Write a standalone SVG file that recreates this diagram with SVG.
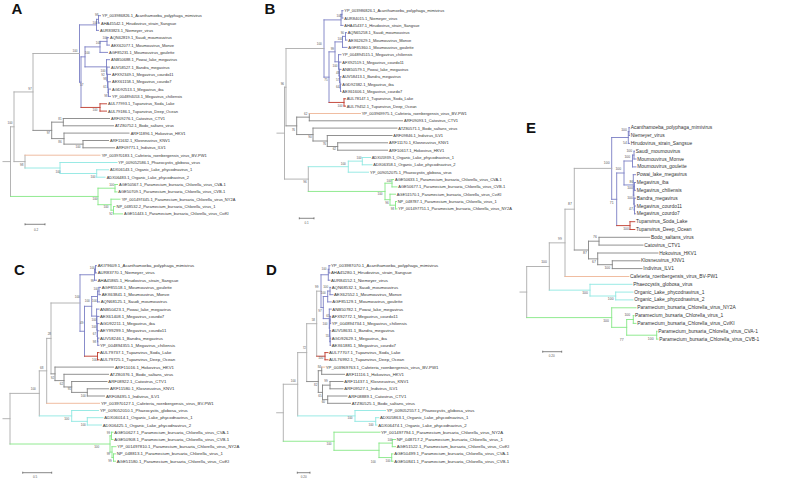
<svg xmlns="http://www.w3.org/2000/svg" width="785" height="479" viewBox="0 0 785 479">
<style>
text{font-family:"Liberation Sans",Arial,sans-serif}
.e path{fill:none;stroke-width:0.9;stroke-linecap:square}
.bl{stroke:#7b7fc4}.rd{stroke:#c0392b}.gy{stroke:#ababab}.dk{stroke:#858585}.or{stroke:#eeb596}.cy{stroke:#8ee8e2}.gr{stroke:#86e886}
.lf text{fill:#333;dominant-baseline:central}
.la{font-size:4px}.lc{font-size:4.3px}.le{font-size:4.9px}
.bs text{fill:#555;font-size:3px;text-anchor:middle;dominant-baseline:central}
.bse text{font-size:3.4px}
.pl{font-size:15px;font-weight:bold;fill:#111}
.sb path{stroke:#555;stroke-width:0.7;fill:none}
.sb text{fill:#555;font-size:3px;text-anchor:middle;dominant-baseline:central}
</style>
<rect width="785" height="479" fill="#fff"/>

<!-- ================= PANEL A ================= -->
<g id="panelA">
<text class="pl" x="11.5" y="13.5">A</text>
<g id="A-edges" class="e">
<path class="bl" d="M98.5 15.7V23M98.5 15.7H100.5M98.5 23H99.5M96.5 19.35V30.4M96.5 19.35H98.5M96.5 30.4H98.5M107 37.7V45.1M107 37.7H108.5M107 45.1H109.5M100 41.4V52.4M100 41.4H107M100 52.4H107.5M108.5 89.1V96.4M108.5 89.1H110.5M108.5 96.4H110.5M108 81.8V92.75M108 81.8H110.5M108 92.75H108.5M107.5 74.4V87.3M107.5 74.4H110.5M107.5 87.3H108M107 67.1V80.8M107 67.1H109.5M107 80.8H107.5M106.5 59.7V74M106.5 59.7H109.5M106.5 74H107M85 46.9V66.85M85 46.9H100M85 66.85H106.5M81 56.85V107.45M81 56.85H85M79.5 24.9V82.15M79.5 24.9H96.5M79.5 82.15H81"/>
<path class="rd" d="M81 107.45H100M100 103.8V111.1M100 103.8H106.5M100 111.1H106.5"/>
<path class="gy" d="M3 161.6H10.5M10.5 126.8V196.45M10.5 126.8H14M14 91.95V161.6M14 91.95H33M14 161.6H25M25 155.2V168M33 53.5H79.5M33 53.5V130.4"/>
<path class="dk" d="M33 130.4H51.7M51.7 122.15V138.6M51.7 122.15H63.3M51.7 138.6H64M63.3 118.5V125.8M63.3 118.5H109.5M63.3 125.8H113.5M64 133.1V144.15M64 133.1H129M64 144.15H83M83 140.5V147.8M83 140.5H108.5M83 147.8H114.5"/>
<path class="or" d="M25 155.2H100"/>
<path class="cy" d="M25 168H60M60 162.5V173.5M60 162.5H117M60 173.5H96.7M96.7 169.8V177.2M96.7 169.8H108.5M96.7 177.2H105"/>
<path class="gr" d="M10.5 196.45H98M98 188.2V204.7M98 188.2H115M98 204.7H111M115 184.5V191.9M115 184.5H117.5M115 191.9H117M111 199.2V210.2M111 199.2H120M111 210.2H113.5M113.5 206.5V213.9M113.5 206.5H115M113.5 213.9H122.5"/>
</g>
<g id="A-leaves" class="lf la">
<text x="102" y="15.7">YP_003986826.1_Acanthamoeba_polyphaga_mimivirus</text>
<text x="101" y="23">AHA45542.1_Hirudovirus_strain_Sangsue</text>
<text x="100" y="30.4">AUR83823.1_Niemeyer_virus</text>
<text x="110" y="37.7">AQN62819.1_Saudi_moumouvirus</text>
<text x="111" y="45.1">AEX62077.1_Moumouvirus_Monve</text>
<text x="109" y="52.4">AGF85231.1_Moumouvirus_goulette</text>
<text x="111" y="59.7">ANB50688.1_Powai_lake_megavirus</text>
<text x="111" y="67.1">AUV58527.1_Bandra_megavirus</text>
<text x="112" y="74.4">AFX92349.1_Megavirus_courdo11</text>
<text x="112" y="81.8">AEX61158.1_Megavirus_courdo7</text>
<text x="112" y="89.1">AGD92513.1_Megavirus_iba</text>
<text x="112" y="96.4">YP_004894053.1_Megavirus_chiliensis</text>
<text x="108" y="103.8">AUL77993.1_Tupanvirus_Soda_Lake</text>
<text x="108" y="111.1">AUL79186.1_Tupanvirus_Deep_Ocean</text>
<text x="111" y="118.5">ARF09276.1_Catovirus_CTV1</text>
<text x="115" y="125.8">ATZ80752.1_Bodo_saltans_virus</text>
<text x="130.7" y="133.1">ARF11896.1_Hokovirus_HKV1</text>
<text x="110" y="140.5">ARF11632.1_Klosneuvirus_KNV1</text>
<text x="116" y="147.8">ARF09771.1_Indivirus_ILV1</text>
<text x="101.7" y="155.2">YP_003970183.1_Cafeteria_roenbergensis_virus_BV-PW1</text>
<text x="118.3" y="162.5">YP_009052586.1_Phaeocystis_globosa_virus</text>
<text x="110" y="169.8">ADX06143.1_Organic_Lake_phycodnavirus_1</text>
<text x="106.7" y="177.2">ADX06483.1_Organic_Lake_phycodnavirus_2</text>
<text x="119" y="184.5">AGE50567.1_Paramecium_bursaria_Chlorella_virus_CVA-1</text>
<text x="118.3" y="191.9">AGE50709.1_Paramecium_bursaria_Chlorella_virus_CVB-1</text>
<text x="121.7" y="199.2">YP_001497445.1_Paramecium_bursaria_Chlorella_virus_NY2A</text>
<text x="116.5" y="206.5">NP_048532.2_Paramecium_bursaria_Chlorella_virus_1</text>
<text x="124" y="213.9">AGE51443.1_Paramecium_bursaria_Chlorella_virus_CviKI</text>
</g>
<g id="A-support" class="bs">
<text x="96.7" y="15.2">98</text><text x="95" y="22.7">100</text><text x="105" y="37.5">100</text><text x="98.3" y="43.3">100</text><text x="87.3" y="53.3">100</text>
<text x="103" y="70.7">100</text><text x="103" y="75">92</text><text x="105" y="79">98</text><text x="105" y="87.3">61</text><text x="106" y="95.7">98</text>
<text x="75" y="50.7">100</text><text x="81.7" y="85">57</text><text x="30" y="89">97</text><text x="95" y="110">100</text>
<text x="60" y="119.3">81</text><text x="48.3" y="133.3">97</text><text x="60" y="141.7">86</text><text x="78" y="147">100</text>
<text x="10" y="123">100</text><text x="21.7" y="165">98</text><text x="58" y="171.7">100</text><text x="93" y="176.7">100</text>
<text x="111.7" y="185">100</text><text x="95" y="199">100</text><text x="106" y="207">100</text><text x="111" y="214">92</text>
</g>
<g id="A-scale" class="sb"><path d="M25 224.3H45M25 223.3V225.3M45 223.3V225.3"/><text x="36" y="229.5">0.2</text></g>
</g>

<!-- ================= PANEL B ================= -->
<g id="panelB">
<text class="pl" x="264.5" y="13.5">B</text>
<g id="B-edges" class="e">
<path class="bl" d="M342 10.7V18M342 10.7H343M342 18H343M341 14.35V25.4M341 14.35H342M341 25.4H343M345.5 32.7V40.1M345.5 32.7H346.5M345.5 40.1H347M342.5 36.4V47.4M342.5 36.4H345.5M342.5 47.4H347M340.5 84.1V91.4M340.5 84.1H341M340.5 91.4H341M340 76.8V87.75M340 76.8H341M340 87.75H340.5M339.5 69.4V82.3M339.5 69.4H341M339.5 82.3H340M339 62.1V75.85M339 62.1H341M339 75.85H339.5M338.5 54.7V68.95M338.5 54.7H341M338.5 68.95H339M335 41.9V61.8M335 41.9H342.5M335 61.8H338.5M329 51.85V102.45M329 51.85H335M324 19.9V77.15M324 19.9H341M324 77.15H329"/>
<path class="rd" d="M329 102.45H344M344 98.8V106.1M344 98.8H345.5M344 106.1H345.5"/>
<path class="gy" d="M277 133.15H284.5M284.5 87.2V179.1M284.5 87.2H286M286 48.5V125.85M286 48.5H324M308.3 166.7V191.45M284.5 179.1H308.3"/>
<path class="dk" d="M286 125.85H296.7M296.7 117.15V134.55M296.7 117.15H309.3M296.7 134.55H313M309.3 113.5V120.8M309.3 120.8H402.5M313 128.1V141M313 128.1H397M313 141H327.3M327.3 135.5V146.5M327.3 135.5H392M327.3 146.5H337.7M337.7 142.8V150.2M337.7 142.8H387.5M337.7 150.2H387.5"/>
<path class="or" d="M309.3 113.5H360.5"/>
<path class="cy" d="M308.3 166.7H348.3M348.3 161.15V172.2M348.3 161.15H362.3M348.3 172.2H368.5M362.3 157.5V164.8M362.3 157.5H370.5M362.3 164.8H372"/>
<path class="gr" d="M308.3 191.45H385M385 183.2V199.7M385 183.2H392M385 199.7H390M392 179.5V186.9M392 179.5H393.5M392 186.9H397M390 194.2V205.2M390 194.2H395.5M390 205.2H395.5M395.5 201.5V208.9M395.5 201.5H396.5M395.5 208.9H397"/>
</g>
<g id="B-leaves" class="lf la">
<text x="344.3" y="10.7">YP_003986826.1_Acanthamoeba_polyphaga_mimivirus</text>
<text x="344.3" y="18">AUR84015.1_Niemeyer_virus</text>
<text x="344.3" y="25.4">AHA45437.1_Hirudovirus_strain_Sangsue</text>
<text x="347.7" y="32.7">AQN65258.1_Saudi_moumouvirus</text>
<text x="348.3" y="40.1">AEX62629.1_Moumouvirus_Monve</text>
<text x="348.3" y="47.4">AGF85360.1_Moumouvirus_goulette</text>
<text x="342.3" y="54.7">YP_004894515.1_Megavirus_chiliensis</text>
<text x="342.3" y="62.1">AFX92519.1_Megavirus_courdo11</text>
<text x="342.3" y="69.4">ANB50579.1_Powai_lake_megavirus</text>
<text x="342.3" y="76.8">AUV58413.1_Bandra_megavirus</text>
<text x="342.3" y="84.1">AGD92382.1_Megavirus_iba</text>
<text x="342.3" y="91.4">AEX61606.1_Megavirus_courdo7</text>
<text x="346.7" y="98.8">AUL78147.1_Tupanvirus_Soda_Lake</text>
<text x="346.7" y="106.1">AUL79452.1_Tupanvirus_Deep_Ocean</text>
<text x="361.7" y="113.5">YP_003969975.1_Cafeteria_roenbergensis_virus_BV-PW1</text>
<text x="404" y="120.8">ARF09093.1_Catovirus_CTV1</text>
<text x="398.3" y="128.1">ATZ80571.1_Bodo_saltans_virus</text>
<text x="393.3" y="135.5">ARF09846.1_Indivirus_ILV1</text>
<text x="389" y="142.8">ARF11170.1_Klosneuvirus_KNV1</text>
<text x="389" y="150.2">ARF10617.1_Hokovirus_HKV1</text>
<text x="371.7" y="157.5">ADX05939.1_Organic_Lake_phycodnavirus_1</text>
<text x="373.3" y="164.8">ADX06358.1_Organic_Lake_phycodnavirus_2</text>
<text x="370" y="172.2">YP_009052075.1_Phaeocystis_globosa_virus</text>
<text x="395" y="179.5">AGE50633.1_Paramecium_bursaria_Chlorella_virus_CVA-1</text>
<text x="398.3" y="186.9">AGE50677.1_Paramecium_bursaria_Chlorella_virus_CVB-1</text>
<text x="396.7" y="194.2">AGE51570.1_Paramecium_bursaria_Chlorella_virus_CviKI</text>
<text x="397.7" y="201.5">NP_048787.1_Paramecium_bursaria_Chlorella_virus_1</text>
<text x="398.3" y="208.9">YP_001497751.1_Paramecium_bursaria_Chlorella_virus_NY2A</text>
</g>
<g id="B-support" class="bs">
<text x="339" y="15.7">100</text><text x="319.3" y="44.3">100</text><text x="326" y="80">75</text><text x="342.3" y="33.3">90</text><text x="340" y="39.3">100</text><text x="332.3" y="49.3">99</text>
<text x="335" y="65.7">100</text><text x="337.7" y="72.7">48</text><text x="337.7" y="80">57</text><text x="337.7" y="87.3">64</text><text x="340" y="106">100</text>
<text x="282.3" y="84">96</text><text x="305.7" y="114">62</text><text x="293.3" y="130">76</text><text x="310" y="137.3">90</text><text x="324.3" y="144.3">76</text><text x="334.3" y="149.3">62</text>
<text x="359" y="158.3">100</text><text x="343.3" y="164.3">100</text><text x="305" y="182.3">96</text>
<text x="389" y="180.7">100</text><text x="380" y="194.3">100</text><text x="387" y="202.7">96</text><text x="392.5" y="208.5">98</text>
</g>
<g id="B-scale" class="sb"><path d="M299.3 218.3H314M299.3 217.3V219.3M314 217.3V219.3"/><text x="306.5" y="223">0.1</text></g>
</g>

<!-- ================= PANEL C ================= -->
<g id="panelC">
<text class="pl" x="14" y="275">C</text>
<g id="C-edges" class="e">
<path class="bl" d="M95.5 265.7V272.9M95.5 265.7H96.5M95.5 272.9H96.5M94.5 269.3V280.2M94.5 269.3H95.5M94.5 280.2H96.5M99 287.4V294.7M99 287.4H100.5M99 294.7H100.5M97.5 291.05V301.9M97.5 291.05H99M97.5 301.9H99.5M97.8 338.1V345.3M97.8 338.1H99M97.8 345.3H99M97.5 330.8V341.7M97.5 330.8H99M97.5 341.7H97.8M97.2 323.6V336.25M97.2 323.6H99M97.2 336.25H97.5M96.9 316.4V329.9M96.9 316.4H99M96.9 329.9H97.2M96.6 309.1V323.15M96.6 309.1H99M96.6 323.15H96.9M91.7 296.5V316.1M91.7 296.5H97.5M91.7 316.1H96.6M84.5 306.3V356.2M84.5 306.3H91.7M80 274.75V331.25M80 274.75H94.5M80 331.25H84.5"/>
<path class="rd" d="M84.5 356.2H97.5M97.5 352.6V359.8M97.5 352.6H99M97.5 359.8H99"/>
<path class="gy" d="M3 418.7H10M10 393.4V444M10 393.4H39.3M39.3 370.85V415.9M39.3 370.85H46.7M46.7 338.4V403.3M46.7 338.4H51M51 303V373.85M51 303H80"/>
<path class="dk" d="M51 373.85H55M55 367.1V380.6M55 367.1H113.5M55 380.6H64M64 374.3V386.95M64 374.3H108.5M64 386.95H71.7M71.7 381.5V392.4M71.7 381.5H107M71.7 392.4H87.3M87.3 388.8V396M87.3 388.8H108.5M87.3 396H104.5"/>
<path class="or" d="M46.7 403.3H99.5"/>
<path class="cy" d="M39.3 415.9H71.7M71.7 410.5V421.35M71.7 410.5H98.5M71.7 421.35H87.3M87.3 417.7V425M87.3 417.7H103M87.3 425H101.5"/>
<path class="gr" d="M10 444H110M110 435.85V452.1M110 435.85H111.5M110 452.1H112M111.5 432.2V439.5M111.5 432.2H113M111.5 439.5H113M112 446.7V457.55M112 446.7H116M112 457.55H113.5M113.5 453.9V461.2M113.5 453.9H115.5M113.5 461.2H115.5"/>
</g>
<g id="C-leaves" class="lf lc">
<text x="97.7" y="265.7">AKI79609.1_Acanthamoeba_polyphaga_mimivirus</text>
<text x="97.7" y="272.9">AUR83770.1_Niemeyer_virus</text>
<text x="97.7" y="280.2">AHA45865.1_Hirudovirus_strain_Sangsue</text>
<text x="101.7" y="287.4">AGF85518.1_Moumouvirus_goulette</text>
<text x="101.7" y="294.7">AEX63841.1_Moumouvirus_Monve</text>
<text x="100.7" y="301.9">AQN68125.1_Saudi_moumouvirus</text>
<text x="100" y="309.1">ANB50423.1_Powai_lake_megavirus</text>
<text x="100" y="316.4">AEX61408.1_Megavirus_courdo7</text>
<text x="100" y="323.6">AGD92211.1_Megavirus_iba</text>
<text x="100" y="330.8">AEY99299.1_Megavirus_courdo11</text>
<text x="100" y="338.1">AUV58246.1_Bandra_megavirus</text>
<text x="100" y="345.3">YP_004894355.1_Megavirus_chiliensis</text>
<text x="100" y="352.6">AUL79737.1_Tupanvirus_Soda_Lake</text>
<text x="100" y="359.8">AUL79725.1_Tupanvirus_Deep_Ocean</text>
<text x="115" y="367.1">ARF11016.1_Hokovirus_HKV1</text>
<text x="110" y="374.3">ATZ80376.1_Bodo_saltans_virus</text>
<text x="108.3" y="381.5">ARF08922.1_Catovirus_CTV1</text>
<text x="110" y="388.8">ARF11580.1_Klosneuvirus_KNV1</text>
<text x="106" y="396">ARF08495.1_Indivirus_ILV1</text>
<text x="101" y="403.3">YP_003970127.1_Cafeteria_roenbergensis_virus_BV-PW1</text>
<text x="100" y="410.5">YP_009052010.1_Phaeocystis_globosa_virus</text>
<text x="104.3" y="417.7">ADX06014.1_Organic_Lake_phycodnavirus_1</text>
<text x="102.7" y="425">ADX06425.1_Organic_Lake_phycodnavirus_2</text>
<text x="114.3" y="432.2">AGE50627.1_Paramecium_bursaria_Chlorella_virus_CVA-1</text>
<text x="114.3" y="439.5">AGE50908.1_Paramecium_bursaria_Chlorella_virus_CVB-1</text>
<text x="117.3" y="446.7">YP_001497810.1_Paramecium_bursaria_Chlorella_virus_NY2A</text>
<text x="116.7" y="453.9">NP_048813.1_Paramecium_bursaria_Chlorella_virus_1</text>
<text x="116.7" y="461.2">AGE51580.1_Paramecium_bursaria_Chlorella_virus_CviKI</text>
</g>
<g id="C-support" class="bs">
<text x="92.3" y="267.7">100</text><text x="92.3" y="280.7">99</text><text x="96" y="289.3">100</text><text x="94.5" y="301">100</text><text x="87.3" y="301">100</text>
<text x="94" y="320">100</text><text x="94" y="326.7">100</text><text x="94.5" y="334.3">67</text><text x="94.5" y="341.7">98</text>
<text x="77.3" y="297.3">100</text><text x="81.7" y="323.3">49</text><text x="94.5" y="360">100</text><text x="49.3" y="334.3">28</text><text x="41.7" y="367.7">68</text>
<text x="52.5" y="378">92</text><text x="61.5" y="384">62</text><text x="69.3" y="389.3">91</text><text x="83.3" y="396">100</text>
<text x="33.3" y="389.3">100</text><text x="66.7" y="419.3">100</text><text x="83.3" y="425">100</text>
<text x="108.5" y="433">99</text><text x="96.7" y="446.7">100</text><text x="108.3" y="454.3">99</text><text x="110" y="461">99</text>
</g>
<g id="C-scale" class="sb"><path d="M22.7 472.7H51.7M22.7 471.7V473.7M51.7 471.7V473.7"/><text x="35" y="476.7">0.5</text></g>
</g>

<!-- ================= PANEL D ================= -->
<g id="panelD">
<text class="pl" x="266" y="274.5">D</text>
<g id="D-edges" class="e">
<path class="bl" d="M329 265.7V272.9M329 265.7H330M329 272.9H330M328.3 269.3V280.2M328.3 269.3H329M328.3 280.2H330M330 287.4V294.7M330 287.4H330.7M330 294.7H333M327.7 291.05V301.9M327.7 291.05H330M327.7 301.9H331.3M330.2 316.4V323.6M330.2 316.4H330.7M330.2 323.6H330.7M330.2 338.1V345.3M330.2 338.1H330.7M330.2 345.3H330.7M329.9 330.8V341.7M329.9 330.8H330.7M329.9 341.7H330.2M329.6 320V336.25M329.6 320H330.2M329.6 336.25H329.9M329.3 309.1V328.1M329.3 309.1H331.3M329.3 328.1H329.6M323.3 296.5V318.6M323.3 296.5H327.7M323.3 318.6H329.3M321 274.75V307.55M321 274.75H328.3M321 307.55H323.3"/>
<path class="gy" d="M316.7 291.15V356.2M316.7 291.15H321M306.7 323.7V381.55M306.7 323.7H316.7M297.7 352.6V415.9M297.7 352.6H306.7M276.7 412.75H283.3M283.3 384.25V441.25M283.3 384.25H297.7"/>
<path class="rd" d="M316.7 356.2H325M325 352.6V359.8M325 352.6H328M325 359.8H328"/>
<path class="dk" d="M306.7 381.55H318.3M318.3 370.7V392.4M318.3 370.7H321.7M318.3 392.4H322.5M321.7 367.1V374.3M321.7 374.3H344.5M322.5 385.15V399.65M322.5 385.15H330M322.5 399.65H327.7M330 381.5V388.8M330 381.5H343M330 388.8H343M327.7 396V403.3M327.7 396H347M327.7 403.3H350.5"/>
<path class="or" d="M321.7 367.1H324.7"/>
<path class="cy" d="M297.7 415.9H355M355 410.5V421.35M355 410.5H385.5M355 421.35H375.7M375.7 417.7V425M375.7 417.7H378.8M375.7 425H377"/>
<path class="gr" d="M283.3 441.25H334M334 432.2V450.3M334 432.2H380M334 450.3H379M379 443.1V457.55M379 443.1H392.3M379 457.55H391.7M392.3 439.5V446.7M392.3 439.5H395.5M392.3 446.7H395.5M391.7 453.9V461.2M391.7 453.9H393M391.7 461.2H393"/>
</g>
<g id="D-leaves" class="lf lc">
<text x="331" y="265.7">YP_003987070.1_Acanthamoeba_polyphaga_mimivirus</text>
<text x="331" y="272.9">AHA45280.1_Hirudovirus_strain_Sangsue</text>
<text x="331" y="280.2">AUR84152.1_Niemeyer_virus</text>
<text x="331.7" y="287.4">AQN68532.1_Saudi_moumouvirus</text>
<text x="334" y="294.7">AEX62552.1_Moumouvirus_Monve</text>
<text x="332.3" y="301.9">AGF85129.1_Moumouvirus_goulette</text>
<text x="332.3" y="309.1">ANB50782.1_Powai_lake_megavirus</text>
<text x="331.7" y="316.4">AFX92772.1_Megavirus_courdo11</text>
<text x="331.7" y="323.6">YP_004894734.1_Megavirus_chiliensis</text>
<text x="331.7" y="330.8">AUV58631.1_Bandra_megavirus</text>
<text x="331.7" y="338.1">AGD92629.1_Megavirus_iba</text>
<text x="331.7" y="345.3">AEX61881.1_Megavirus_courdo7</text>
<text x="329" y="352.6">AUL77707.1_Tupanvirus_Soda_Lake</text>
<text x="329" y="359.8">AUL76992.1_Tupanvirus_Deep_Ocean</text>
<text x="325.7" y="367.1">YP_003969763.1_Cafeteria_roenbergensis_virus_BV-PW1</text>
<text x="345.7" y="374.3">ARF11116.1_Hokovirus_HKV1</text>
<text x="344.3" y="381.5">ARF11437.1_Klosneuvirus_KNV1</text>
<text x="344.3" y="388.8">ARF09527.1_Indivirus_ILV1</text>
<text x="348.3" y="396">ARF08889.1_Catovirus_CTV1</text>
<text x="351.7" y="403.3">ATZ80525.1_Bodo_saltans_virus</text>
<text x="386.7" y="410.5">YP_009052557.1_Phaeocystis_globosa_virus</text>
<text x="380" y="417.7">ADX05863.1_Organic_Lake_phycodnavirus_1</text>
<text x="378.3" y="425">ADX06474.1_Organic_Lake_phycodnavirus_2</text>
<text x="381" y="432.2">YP_001497794.1_Paramecium_bursaria_Chlorella_virus_NY2A</text>
<text x="396.7" y="439.5">NP_048717.2_Paramecium_bursaria_Chlorella_virus_1</text>
<text x="396.7" y="446.7">AGE51522.1_Paramecium_bursaria_Chlorella_virus_CviKI</text>
<text x="394.3" y="453.9">AGE50499.1_Paramecium_bursaria_Chlorella_virus_CVA-1</text>
<text x="394.3" y="461.2">AGE50841.1_Paramecium_bursaria_Chlorella_virus_CVB-1</text>
</g>
<g id="D-support" class="bs">
<text x="324" y="269">100</text><text x="316.7" y="287.3">99</text><text x="325.7" y="287.3">100</text><text x="323.3" y="293.3">100</text><text x="320" y="310.7">97</text>
<text x="328" y="316">65</text><text x="325" y="324">100</text><text x="327.3" y="335.7">55</text><text x="313.3" y="320">58</text><text x="304.3" y="348.3">72</text><text x="320.7" y="358.3">100</text>
<text x="319.3" y="367.3">84</text><text x="315.7" y="385">82</text><text x="326" y="381">99</text><text x="320" y="395.7">65</text><text x="323.3" y="401.7">60</text>
<text x="293.3" y="381">100</text><text x="350" y="418.3">100</text><text x="371" y="425">100</text>
<text x="329" y="444.3">100</text><text x="390" y="440">100</text><text x="373.3" y="462">100</text><text x="388" y="461">100</text>
</g>
<g id="D-scale" class="sb"><path d="M297.3 472.7H310M297.3 471.7V473.7M310 471.7V473.7"/><text x="303.7" y="477">0.20</text></g>
</g>

<!-- ================= PANEL E ================= -->
<g id="panelE">
<text class="pl" x="526" y="133.3">E</text>
<g id="E-edges" class="e">
<path class="bl" d="M629 127.7V135.5M629 127.7H629.5M629 135.5H629.5M628.3 131.6V143.4M628.3 131.6H629M628.3 143.4H629.5M634 151.2V159M634 151.2H634.5M634 159H636M632.5 155.1V166.9M632.5 155.1H634M632.5 166.9H636M634.5 182.5V190.3M634.5 182.5H635.5M634.5 190.3H635.5M634.5 206V213.8M634.5 206H635.5M634.5 213.8H635.5M634.2 198.2V209.9M634.2 198.2H635.5M634.2 209.9H634.5M633.8 186.4V204.05M633.8 186.4H634.5M633.8 204.05H634.2M633.3 174.7V195.2M633.3 174.7H635.5M633.3 195.2H633.8M624 161V184.95M624 161H632.5M624 184.95H633.3M616.7 173V225.6M616.7 173H624M611.7 137.5V199.3M611.7 137.5H628.3M611.7 199.3H616.7"/>
<path class="rd" d="M616.7 225.6H630M630 221.7V229.5M630 221.7H634.8M630 229.5H634.8"/>
<path class="gy" d="M574.3 168.4V250M574.3 168.4H611.7M565 209.2V276.5M565 209.2H574.3M549.3 242.85V290.15M549.3 242.85H565M520 292.05H526.7M526.7 266.5V317.6M526.7 266.5H549.3"/>
<path class="dk" d="M574.3 250H588.5M588.5 241.2V258.85M588.5 241.2H599M588.5 258.85H597.7M599 237.3V245.1M599 237.3H649.8M599 245.1H643M597.7 253V264.7M597.7 253H658M597.7 264.7H612.3M612.3 260.8V268.6M612.3 260.8H640M612.3 268.6H642"/>
<path class="or" d="M565 276.5H628.8"/>
<path class="cy" d="M549.3 290.15H590M590 284.3V296M590 284.3H632M590 296H615.7M615.7 292.1V299.9M615.7 292.1H633M615.7 299.9H633"/>
<path class="gr" d="M526.7 317.6H611.7M611.7 307.8V327.35M611.7 307.8H636M611.7 327.35H626.7M626.7 319.5V335.2M626.7 319.5H633.3M626.7 335.2H656.7M633.3 315.6V323.4M633.3 315.6H634M633.3 323.4H636M656.7 331.3V339.1M656.7 331.3H657M656.7 339.1H658"/>
</g>
<g id="E-leaves" class="lf le">
<text x="630.7" y="127.7">Acanthamoeba_polyphaga_mimivirus</text>
<text x="630.7" y="135.5">Niemeyer_virus</text>
<text x="630.7" y="143.4">Hirudovirus_strain_Sangsue</text>
<text x="635.7" y="151.2">Saudi_moumouvirus</text>
<text x="637.3" y="159">Moumouvirus_Monve</text>
<text x="637.3" y="166.9">Moumouvirus_goulette</text>
<text x="636.7" y="174.7">Powai_lake_megavirus</text>
<text x="636.7" y="182.5">Megavirus_iba</text>
<text x="636.7" y="190.3">Megavirus_chiliensis</text>
<text x="636.7" y="198.2">Bandra_megavirus</text>
<text x="636.7" y="206">Megavirus_courdo11</text>
<text x="636.7" y="213.8">Megavirus_courdo7</text>
<text x="636" y="221.7">Tupanvirus_Soda_Lake</text>
<text x="636" y="229.5">Tupanvirus_Deep_Ocean</text>
<text x="651" y="237.3">Bodo_saltans_virus</text>
<text x="644.3" y="245.1">Catovirus_CTV1</text>
<text x="659.3" y="253">Hokovirus_HKV1</text>
<text x="641" y="260.8">Klosneuvirus_KNV1</text>
<text x="643.3" y="268.6">Indivirus_ILV1</text>
<text x="630" y="276.5">Cafeteria_roenbergensis_virus_BV-PW1</text>
<text x="633.3" y="284.3">Phaeocystis_globosa_virus</text>
<text x="634.3" y="292.1">Organic_Lake_phycodnavirus_1</text>
<text x="634.3" y="299.9">Organic_Lake_phycodnavirus_2</text>
<text x="637.3" y="307.8">Paramecium_bursaria_Chlorella_virus_NY2A</text>
<text x="635" y="315.6">Paramecium_bursaria_Chlorella_virus_1</text>
<text x="637.3" y="323.4">Paramecium_bursaria_Chlorella_virus_CviKI</text>
<text x="658.3" y="331.3">Paramecium_bursaria_Chlorella_virus_CVA-1</text>
<text x="659.3" y="339.1">Paramecium_bursaria_Chlorella_virus_CVB-1</text>
</g>
<g id="E-support" class="bs bse">
<text x="624" y="130">100</text><text x="625" y="143.3">54</text><text x="629.3" y="151">100</text><text x="627.3" y="157.3">100</text><text x="618.3" y="169.3">100</text>
<text x="631.5" y="182.3">86</text><text x="630" y="188.3">100</text><text x="630" y="198.3">100</text><text x="631" y="209.3">47</text>
<text x="606.7" y="163.3">100</text><text x="611.7" y="203.3">71</text><text x="626" y="229.3">100</text>
<text x="595" y="237.3">76</text><text x="570" y="204">87</text><text x="560" y="239">99</text><text x="585" y="252.7">87</text><text x="594" y="261.7">67</text><text x="607.3" y="268.3">100</text>
<text x="544" y="261.7">100</text><text x="585" y="293.3">100</text><text x="610.7" y="299.3">100</text>
<text x="627.3" y="315">100</text><text x="606" y="320.7">100</text><text x="621.7" y="340">77</text><text x="650.7" y="339">100</text>
</g>
<g id="E-scale" class="sb"><path d="M542.7 351.7H561.7M542.7 350.7V352.7M561.7 350.7V352.7"/><text x="551.7" y="356">0.20</text></g>
</g>
</svg>
